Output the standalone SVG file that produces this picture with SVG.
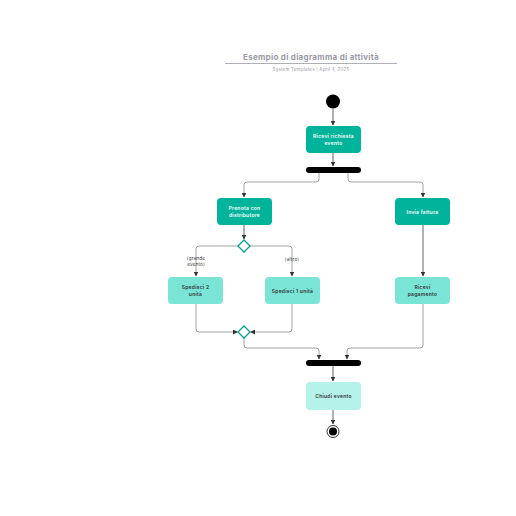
<svg xmlns="http://www.w3.org/2000/svg" width="516" height="516" viewBox="0 0 516 516">
<style>
.t{font-family:Inter,"Noto Sans","Liberation Sans",sans-serif;text-anchor:middle}
.bt{font-size:5px;font-weight:600;fill:#ffffff;letter-spacing:0.25px}
.dt{font-size:5px;font-weight:600;fill:#333333;letter-spacing:0.25px}
.lbl{font-size:4.6px;fill:#333333;letter-spacing:0.2px}
.c{fill:none;stroke:#8a8a8a;stroke-width:0.8}
.cd{fill:none;stroke:#3a3a3a;stroke-width:0.8}
.a1{fill:#00b39b}
.a2{fill:#7ae5d7}
.a3{fill:#b5f2ea}
.bar{fill:#000000}
.dia{fill:#ffffff;stroke:#0a9e8a;stroke-width:1.3}
</style>
<defs>
<marker id="ah" viewBox="0 0 10 10" refX="9" refY="5" markerWidth="5" markerHeight="5" markerUnits="userSpaceOnUse" orient="auto">
<path d="M0,0 L10,5 L0,10 z" fill="#333333"/>
</marker>
</defs>
<rect width="516" height="516" fill="#ffffff"/>
<g id="title">
<text class="t" x="311" y="60" style="font-size:8px;font-weight:700;fill:#9a9aa6;letter-spacing:0.3px">Esempio di diagramma di attività</text>
<line x1="225" y1="63.5" x2="397" y2="63.5" stroke="#9a9aa6" stroke-width="0.8"/>
<text class="t" x="311" y="70.5" style="font-size:4.5px;fill:#9a9aa6;letter-spacing:0.2px">System Templates  |  April 4, 2025</text>
</g>
<g id="connectors">
<path class="cd" d="M333,109 V125" marker-end="url(#ah)"/>
<path class="cd" d="M333,153 V166" marker-end="url(#ah)"/>
<path class="c" d="M319,173 V179 Q319,182 316,182 H247 Q244,182 244,185 V197" marker-end="url(#ah)"/>
<path class="c" d="M348,173 V179 Q348,182 351,182 H420 Q423,182 423,185 V197" marker-end="url(#ah)"/>
<path class="cd" d="M244,225 V239" marker-end="url(#ah)"/>
<path class="c" d="M238,246 H199 Q196,246 196,249 V276" marker-end="url(#ah)"/>
<path class="c" d="M250,246 H289 Q292,246 292,249 V276" marker-end="url(#ah)"/>
<path class="cd" d="M423,225 V276" marker-end="url(#ah)"/>
<path class="c" d="M196,304 V329 Q196,332 199,332 H237.5" marker-end="url(#ah)"/>
<path class="c" d="M292,304 V329 Q292,332 289,332 H250.5" marker-end="url(#ah)"/>
<path class="c" d="M244,338 V345 Q244,348 247,348 H316 Q319,348 319,351 V359" marker-end="url(#ah)"/>
<path class="c" d="M423,304 V345 Q423,348 420,348 H350 Q347,348 347,351 V359" marker-end="url(#ah)"/>
<path class="cd" d="M333,366 V381" marker-end="url(#ah)"/>
<path class="cd" d="M333,410 V424" marker-end="url(#ah)"/>
</g>
<g id="start"><circle cx="333" cy="101.5" r="7" fill="#000000"/></g>
<g id="ricevi-richiesta">
<rect class="a1" x="306" y="126" width="55" height="27" rx="4"/>
<text class="t bt" x="333.5" y="137.5">Ricevi richiesta</text>
<text class="t bt" x="333.5" y="144.5">evento</text>
</g>
<g id="fork"><rect class="bar" x="306" y="167" width="55" height="6" rx="3"/></g>
<g id="prenota">
<rect class="a1" x="217" y="198" width="55" height="27" rx="4"/>
<text class="t bt" x="244.5" y="210">Prenota con</text>
<text class="t bt" x="244.5" y="217">distributore</text>
</g>
<g id="invia-fattura">
<rect class="a1" x="395" y="198" width="55" height="27" rx="4"/>
<text class="t bt" x="422.5" y="213.5">Invia fattura</text>
</g>
<g id="decision">
<path class="dia" d="M244,240 L250,246 L244,252 L238,246 z"/>
</g>
<g id="labels">
<text class="t lbl" x="196" y="260">[grande</text>
<text class="t lbl" x="196" y="266">evento]</text>
<text class="t lbl" x="292" y="260.5">[altro]</text>
</g>
<g id="spedisci-2">
<rect class="a2" x="168" y="277" width="55" height="27" rx="4"/>
<text class="t dt" x="195.5" y="289">Spedisci 2</text>
<text class="t dt" x="195.5" y="296">unità</text>
</g>
<g id="spedisci-1">
<rect class="a2" x="265" y="277" width="55" height="27" rx="4"/>
<text class="t dt" x="292.5" y="292.5">Spedisci 1 unità</text>
</g>
<g id="ricevi-pagamento">
<rect class="a2" x="395" y="277" width="55" height="27" rx="4"/>
<text class="t dt" x="422.5" y="289">Ricevi</text>
<text class="t dt" x="422.5" y="296">pagamento</text>
</g>
<g id="merge">
<path class="dia" d="M244,326 L250,332 L244,338 L238,332 z"/>
</g>
<g id="join"><rect class="bar" x="306" y="360" width="55" height="6" rx="3"/></g>
<g id="chiudi-evento">
<rect class="a3" x="306" y="382" width="55" height="28" rx="4"/>
<text class="t dt" x="333.5" y="397.5">Chiudi evento</text>
</g>
<g id="end">
<circle cx="333" cy="431.5" r="6" fill="#ffffff" stroke="#000000" stroke-width="0.8"/>
<circle cx="333" cy="431.5" r="4" fill="#000000"/>
</g>
</svg>
